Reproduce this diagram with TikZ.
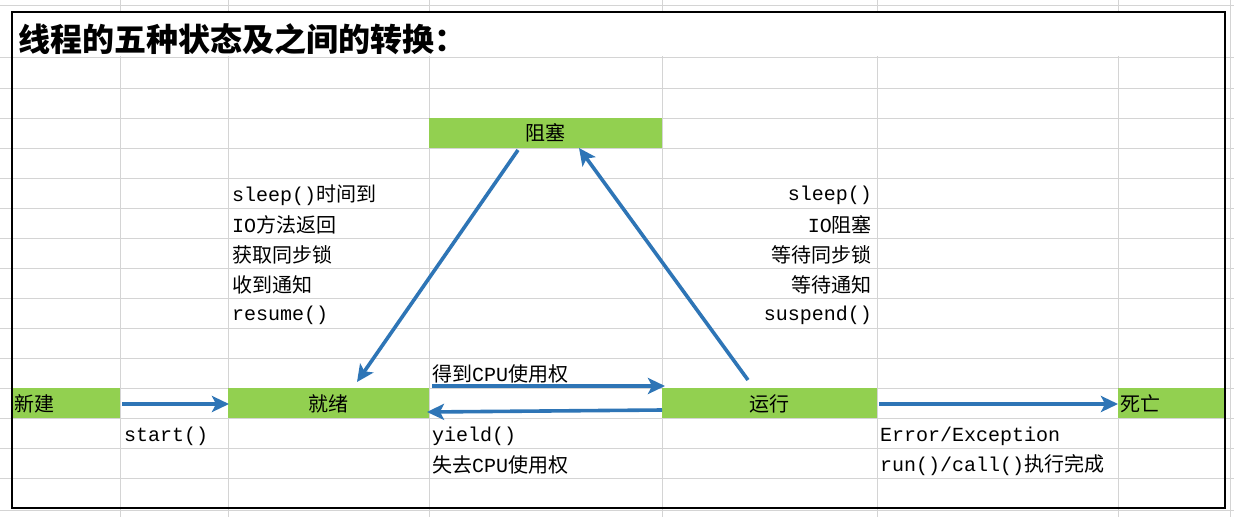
\documentclass[tikz,border=0pt]{standalone}
\usepackage{fontspec}
\setmainfont{Noto Sans CJK SC}
\newfontfamily\cjk{Noto Sans CJK SC}
\newfontfamily\mono{Liberation Mono}
\usetikzlibrary{arrows.meta}
\definecolor{grn}{HTML}{92D050}
\definecolor{blu}{HTML}{2E75B6}
\definecolor{grd}{HTML}{D4D4D4}
\tikzset{
 lbl/.style={inner sep=0pt,font=\fontsize{20}{20}\selectfont},
 arr/.style={draw=blu,line width=3.6pt,-{Stealth[length=17pt,width=16pt,inset=4pt]}},
}
\begin{document}
\begin{tikzpicture}[x=1pt,y=-1pt]
\useasboundingbox (0,0) rectangle (1234,517);
\fill[white] (0,0) rectangle (1234,517);
\foreach \x in {120,228,429,662,877,1118,1230}{\draw[grd] (\x,0)--(\x,517);}
\foreach \y in {57,88,118,148,178,208,238,268,298,328,358,388,418,448,478,510}{\draw[grd] (0,\y)--(1234,\y);}
\draw[grd] (0,5)--(1234,5);
\fill[white] (13,13) rectangle (1224,56);
\draw[black,line width=1.5pt] (12,12) rectangle (1225,508);
\node[anchor=west,inner sep=0pt,font=\fontsize{32}{32}\selectfont\bfseries] (title) at (18,39) {线程的五种状态及之间的转换：};
\fill[grn] (429,118) rectangle (662,148);
\node[lbl] (zs) at (545.5,133) {阻塞};
\fill[grn] (12.8,388) rectangle (120,418);
\node[lbl,anchor=west] (xj) at (14,404) {新建};
\fill[grn] (228,388) rectangle (429,418);
\node[lbl] (jx) at (328.5,404) {就绪};
\fill[grn] (662,388) rectangle (877,418);
\node[lbl] (yx) at (769.5,404) {运行};
\fill[grn] (1118,388) rectangle (1224.2,418);
\node[lbl,anchor=west] (sw) at (1120,404) {死亡};
\coordinate (a1) at (122,404); \coordinate (a2) at (229,404);
\coordinate (b1) at (432,386); \coordinate (b2) at (665,386);
\coordinate (c1) at (662,410); \coordinate (c2) at (427,412);
\coordinate (d1) at (879,404); \coordinate (d2) at (1118,404);
\coordinate (e1) at (518,150); \coordinate (e2) at (357,382);
\coordinate (f1) at (748,380); \coordinate (f2) at (579,148);
\draw[arr] (a1)--(a2);
\draw[arr] (b1)--(b2);
\draw[arr] (c1)--(c2);
\draw[arr] (d1)--(d2);
\draw[arr] (e1)--(e2);
\draw[arr] (f1)--(f2);
\node[lbl,anchor=west] (l1) at (232,195) {{\mono sleep()}时间到};
\node[lbl,anchor=west] (l2) at (232,225) {{\mono IO}方法返回};
\node[lbl,anchor=west] (l3) at (232,255) {获取同步锁};
\node[lbl,anchor=west] (l4) at (232,285) {收到通知};
\node[lbl,anchor=west] (l5) at (232,315) {{\mono resume()}};
\node[lbl,anchor=east] (r1) at (872,195) {{\mono sleep()}};
\node[lbl,anchor=east] (r2) at (872,225) {{\mono IO}阻塞};
\node[lbl,anchor=east] (r3) at (872,255) {等待同步锁};
\node[lbl,anchor=east] (r4) at (872,285) {等待通知};
\node[lbl,anchor=east] (r5) at (872,315) {{\mono suspend()}};
\node[lbl,anchor=west] (s) at (124,436) {{\mono start()}};
\node[lbl,anchor=west] (g) at (432,374) {得到{\mono CPU}使用权};
\node[lbl,anchor=west] (y1) at (432,436) {{\mono yield()}};
\node[lbl,anchor=west] (y2) at (432,465) {失去{\mono CPU}使用权};
\node[lbl,anchor=west] (e3) at (880,436) {{\mono Error/Exception}};
\node[lbl,anchor=west] (e4) at (880,465) {{\mono run()/call()}执行完成};
\end{tikzpicture}
\end{document}
